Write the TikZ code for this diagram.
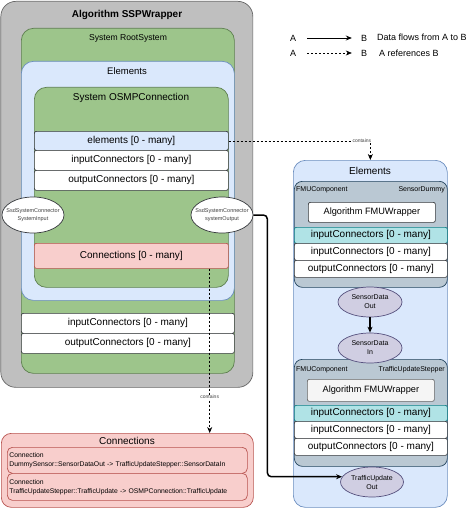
\documentclass[tikz,border=0pt]{standalone}
\usepackage{fontspec}
\setmainfont{Liberation Sans}
\usetikzlibrary{arrows.meta,shapes.geometric,calc}

\definecolor{sspgray}{HTML}{BFBFBF}
\definecolor{sspline}{HTML}{666666}
\definecolor{rootgreen}{HTML}{9DC58B}
\definecolor{greenline}{HTML}{5D7F4F}
\definecolor{elemblue}{HTML}{DAE8FC}
\definecolor{blueline}{HTML}{6C8EBF}
\definecolor{pinkbox}{HTML}{F8CECC}
\definecolor{pinkline}{HTML}{B85450}
\definecolor{fmugray}{HTML}{BAC8D3}
\definecolor{fmuline}{HTML}{23445D}
\definecolor{cyanrow}{HTML}{B0E3E6}
\definecolor{cyanline}{HTML}{0E8088}
\definecolor{portpurple}{HTML}{D0CEE2}
\definecolor{portline}{HTML}{56517E}
\definecolor{rowline}{HTML}{36393D}
\definecolor{algofill}{HTML}{F5F5F5}

\begin{document}
\begin{tikzpicture}[x=1pt, y=-1pt, >={Stealth[length=6pt,width=5pt]},
    frame/.style={draw, rounded corners=12pt, anchor=north west, inner sep=0pt, line width=0.7pt},
    row/.style={draw=rowline, rounded corners=2pt, anchor=north west, inner sep=0pt, line width=0.7pt,
                font=\fontsize{10}{12}\selectfont},
    title/.style={inner sep=0pt, font=\fontsize{10}{12}\selectfont},
    small/.style={inner sep=0pt, font=\fontsize{7}{8}\selectfont},
    port/.style={ellipse, draw, line width=0.7pt, inner sep=0pt},
    portlbl/.style={inner sep=0pt, align=center, text=darkgray, font=\fontsize{5.5}{8}\selectfont},
    legend/.style={inner sep=0pt, font=\fontsize{9}{11}\selectfont},
    flow/.style={->, line width=1.5pt},
    ref/.style={->, dash pattern=on 2pt off 2pt, line width=0.6pt},
    note/.style={fill=white, inner sep=0.5pt, text=darkgray, font=\fontsize{5}{6}\selectfont}]

    \useasboundingbox (0,0) rectangle (474,508);

    % The outer algorithm and the root system
    \node[frame, rounded corners=15pt, fill=sspgray, draw=sspline, minimum width=252pt, minimum height=386pt] (ssp) at (0.5,1) {};
    \node[title, font=\bfseries\fontsize{10}{12}\selectfont] (sspT) at (127,15) {Algorithm SSPWrapper};
    \node[frame, fill=rootgreen, draw=greenline, minimum width=213pt, minimum height=345pt] (root) at (21,28) {};
    \node[title, font=\fontsize{8.6}{10}\selectfont] (rootT) at (128,38) {System RootSystem};

    % Elements of the root system
    \node[frame, fill=elemblue, draw=blueline, minimum width=213pt, minimum height=239pt] (elems) at (21,61) {};
    \node[title, font=\fontsize{9.5}{11}\selectfont] (elemsT) at (127,71) {Elements};
    \node[frame, fill=rootgreen, draw=greenline, minimum width=194pt, minimum height=200pt] (osmp) at (34,87) {};
    \node[title] (osmpT) at (131,98) {System OSMPConnection};

    \node[row, fill=elemblue, minimum width=194pt, minimum height=19pt] (eleRow) at (34,131) {elements [0 - many]};
    \node[row, fill=white, minimum width=194pt, minimum height=20pt] (inRowA) at (34,150) {inputConnectors [0 - many]};
    \node[row, fill=white, minimum width=194pt, minimum height=20pt] (outRowA) at (34,170) {outputConnectors [0 - many]};
    \node[row, fill=pinkbox, draw=pinkline, minimum width=194pt, minimum height=25pt] (conRow) at (34,243) {Connections [0 - many]};

    % System connectors
    \node[port, fill=white, draw=rowline, minimum width=62pt, minimum height=36pt,
          label={[portlbl]center:SsdSystemConnector\\SystemInput}] (sysIn) at (33,215) {};
    \node[port, fill=white, draw=rowline, minimum width=62pt, minimum height=36pt,
          label={[portlbl]center:SsdSystemConnector\\systemOutput}] (sysOut) at (222,215) {};

    \node[row, fill=white, minimum width=213pt, minimum height=20pt] (inRowB) at (21,313) {inputConnectors [0 - many]};
    \node[row, fill=white, minimum width=213pt, minimum height=20pt] (outRowB) at (21,333) {outputConnectors [0 - many]};

    % Legend
    \node[legend] (legA1) at (293,38) {A};
    \node[legend] (legB1) at (364,38) {B};
    \node[legend, anchor=west] (legT1) at (377,37) {Data flows from A to B};
    \node[legend] (legA2) at (293,53) {A};
    \node[legend] (legB2) at (364,53) {B};
    \node[legend, anchor=west] (legT2) at (379,53) {A references B};
    \draw[->, line width=0.8pt, shorten <=11pt, shorten >=9pt] (legA1) -- (legB1);
    \draw[ref, shorten <=11pt, shorten >=9pt] (legA2) -- (legB2);

    % Elements on the right
    \node[frame, fill=elemblue, draw=blueline, minimum width=154pt, minimum height=347pt] (relems) at (293,160) {};
    \node[title] (relemsT) at (370,171) {Elements};

    \node[frame, rounded corners=8pt, fill=fmugray, draw=fmuline, minimum width=153pt, minimum height=106pt] (fmuA) at (294,181) {};
    \node[small, anchor=west] (fmuAtype) at (296,190) {FMUComponent};
    \node[small, anchor=east] (fmuAname) at (445,190) {SensorDummy};
    \node[row, fill=white, minimum width=127pt, minimum height=20pt, font=\fontsize{9.2}{11}\selectfont] (algoA) at (308,202) {Algorithm FMUWrapper};
    \node[row, fill=cyanrow, draw=cyanline, minimum width=153pt, minimum height=16pt] (inA0) at (294,227) {inputConnectors [0 - many]};
    \node[row, fill=white, minimum width=153pt, minimum height=17pt] (inA) at (294,243) {inputConnectors [0 - many]};
    \node[row, fill=white, minimum width=153pt, minimum height=17pt] (outA) at (294,260) {outputConnectors [0 - many]};

    \node[frame, rounded corners=8pt, fill=fmugray, draw=fmuline, minimum width=153pt, minimum height=107pt] (fmuB) at (294,359) {};
    \node[small, anchor=west] (fmuBtype) at (296,370) {FMUComponent};
    \node[small, anchor=east] (fmuBname) at (445,370) {TrafficUpdateStepper};
    \node[row, fill=algofill, draw=sspline, minimum width=127pt, minimum height=22pt, font=\fontsize{9.2}{11}\selectfont] (algoB) at (307,379) {Algorithm FMUWrapper};
    \node[row, fill=cyanrow, draw=cyanline, minimum width=153pt, minimum height=16pt] (inB0) at (294,405) {inputConnectors [0 - many]};
    \node[row, fill=white, minimum width=153pt, minimum height=17pt] (inB) at (294,421) {inputConnectors [0 - many]};
    \node[row, fill=white, minimum width=153pt, minimum height=17pt] (outB) at (294,438) {outputConnectors [0 - many]};

    % FMU connectors
    \node[port, fill=portpurple, draw=portline, minimum width=64pt, minimum height=30pt, align=center,
          font=\fontsize{7}{9}\selectfont] (sdOut) at (370,302) {SensorData\\Out};
    \node[port, fill=portpurple, draw=portline, minimum width=64pt, minimum height=30pt, align=center,
          font=\fontsize{7}{9}\selectfont] (sdIn) at (370,348) {SensorData\\In};
    \node[port, fill=portpurple, draw=portline, minimum width=63pt, minimum height=30pt, align=center,
          font=\fontsize{7}{9}\selectfont] (tuOut) at (372,482) {TrafficUpdate\\Out};

    % Connections
    \node[frame, rounded corners=10pt, fill=pinkbox, draw=pinkline, minimum width=252pt, minimum height=74pt] (conns) at (1,433) {};
    \node[title] (connsT) at (127,441) {Connections};
    \node[row, rounded corners=5pt, fill=pinkbox, draw=pinkline, minimum height=26pt, text width=236pt, inner xsep=2pt,
          align=left, font=\fontsize{6.8}{9}\selectfont] (connA) at (7,447)
          {Connection\\DummySensor::SensorDataOut -> TrafficUpdateStepper::SensorDataIn};
    \node[row, rounded corners=5pt, fill=pinkbox, draw=pinkline, minimum height=27pt, text width=236pt, inner xsep=2pt,
          align=left, font=\fontsize{6.8}{9}\selectfont] (connB) at (7,473)
          {Connection\\TrafficUpdateStepper::TrafficUpdate -> OSMPConnection::TrafficUpdate};

    % References
    \draw[ref] (eleRow.east) -| node[note, pos=0.47] {contains} (relems.north);
    \coordinate (conTap) at ($(conRow.south east)+(-19,0)$);
    \draw[ref] (conTap) -- node[note, pos=0.78] {contains} (conTap |- conns.north);

    % Data flows
    \draw[flow] (sdOut) -- (sdIn);
    \draw[flow, rounded corners=4pt] (sysOut.east) -- ++(14,0) |- (tuOut.170);
\end{tikzpicture}
\end{document}
